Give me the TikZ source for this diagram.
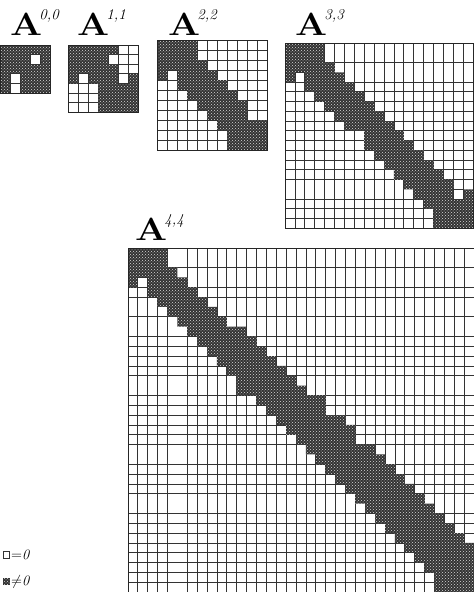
\documentclass[tikz,border=0pt]{standalone}
\usepackage{graphicx}
\usetikzlibrary{patterns}
\tikzset{
  gridline/.style={draw=black!80, line width=0.8pt},
  frameline/.style={draw=black!85, line width=0.9pt},
  nzfill/.style={fill=black!80, postaction={pattern=crosshatch dots, pattern color=white!85!black}},
  lbl/.style={inner sep=0pt, anchor=base west},
  legtxt/.style={inner sep=0pt, anchor=west},
}
\newcommand\matlabel[1]{\scalebox{1.18}[1]{\fontsize{32}{32}\selectfont\bfseries A}\kern-3pt\raisebox{15.5pt}{\fontsize{15}{15}\selectfont\itshape #1}}
% #1 x0, #2 y0, #3 n, #4 cell width, #5 cell height, #6 row band list s/e, #7 white notches c/r,
% #8 horizontal grid lines, #9 vertical grid lines
\newcommand\sparsemat[9]{%
 \begin{scope}[shift={(#1,#2)}]
  \pgfmathsetmacro\matW{#3*#4}\pgfmathsetmacro\matHt{#3*#5}
  \foreach \k in {#8} { \draw[gridline] (0,\k*#5) -- (\matW,\k*#5); }
  \foreach \k in {#9} { \draw[gridline] (\k*#4,0) -- (\k*#4,\matHt); }
  \fill[nzfill] \foreach \s/\e [count=\r from 0] in {#6} { (\s*#4,\r*#5) rectangle ({(\e+1)*#4},{(\r+1)*#5}) };
  \foreach \c/\r in {#7} { \filldraw[fill=white, gridline] (\c*#4,\r*#5) rectangle ({(\c+1)*#4},{(\r+1)*#5}); }
  \draw[frameline] (0,0) rectangle (\matW,\matHt);
 \end{scope}}
\begin{document}
\begin{tikzpicture}[x=1pt,y=-1pt]
\useasboundingbox (0,0) rectangle (474,592);
% A^{0,0}
\sparsemat{0}{45}{5}{10}{9.6}{0/4,0/4,0/4,0/4,0/4}{3/1,1/3,1/4}{1,...,4}{1,...,4}
% A^{1,1}
\sparsemat{68}{45}{7}{10}{9.6}{0/4,0/3,0/4,0/6,3/6,3/6,3/6}{1/3,5/3}{1,...,6}{1,...,6}
% A^{2,2}
\sparsemat{157}{40}{11}{10}{10}{0/3,0/3,0/4,0/5,2/6,3/7,4/8,5/8,6/10,7/10,7/10}{1/3}{1,...,10}{1,...,10}
% A^{3,3}
\sparsemat{285}{43}{19}{9.9}{9.75}{0/3,0/3,0/4,0/5,2/6,3/7,4/8,5/9,6/10,8/11,8/12,9/13,10/14,11/15,12/16,13/18,14/18,15/18,15/18}{1/3,17/15}{2,4,5,6,7,8,9,10,11,12,13,14,16,17,18}{1,...,18}
% A^{4,4}
\sparsemat{128}{248}{35}{9.886}{9.83}{0/3,0/3,0/4,0/5,2/6,3/7,4/8,5/9,6/11,7/12,8/13,9/14,10/15,11/16,11/17,13/19,14/19,15/21,16/22,17/22,18/24,19/25,20/26,21/27,22/28,23/29,24/30,25/31,26/32,27/33,28/34,29/34,30/34,31/34,31/34}{1/3}{2,4,5,7,9,10,11,12,13,15,16,17,18,19,20,22,23,24,25,27,28,29,30,31,32,33,34}{1,2,3,4,6,7,8,9,10,11,12,13,14,15,16,17,18,19,20,21,22,23,24,25,26,27,28,29,30,31,32,33,34}
% labels
\node[lbl] (l00) at (10,35) {\matlabel{0,0}};
\node[lbl] (l11) at (77,35) {\matlabel{1,1}};
\node[lbl] (l22) at (168,35) {\matlabel{2,2}};
\node[lbl] (l33) at (295,35) {\matlabel{3,3}};
\node[lbl] (l44) at (135,240) {\matlabel{4,4}};
% legend
\node[draw=black!80, line width=0.6pt, fill=white, minimum size=6.5pt, inner sep=0pt] (legzbox) at (6.5,555) {};
\node[legtxt] (legztxt) at (11,555) {\fontsize{14}{14}\selectfont${=}\mathit{0}$};
\node[draw=black!80, line width=0.6pt, nzfill, minimum size=6.5pt, inner sep=0pt] (legnbox) at (6.5,581.5) {};
\node[legtxt] (legntxt) at (11,581.5) {\fontsize{14}{14}\selectfont${\neq}\mathit{0}$};
\end{tikzpicture}
\end{document}
